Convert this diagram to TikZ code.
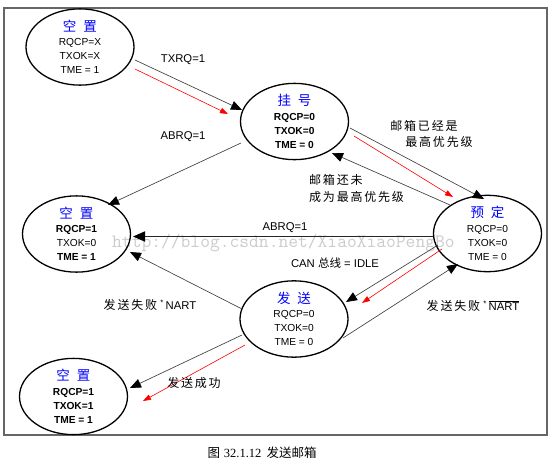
\documentclass[tikz,border=0pt]{standalone}
\usepackage{fontspec}
\setmainfont{Liberation Sans}
\newfontfamily\cjk{Noto Sans CJK SC}
\newfontfamily\cjksp[LetterSpace=15]{Noto Sans CJK SC}
\newfontfamily\serifen{Liberation Serif}
\usetikzlibrary{arrows.meta,shapes.geometric}
\newcommand{\ttl}[2]{{\cjk\fontsize{13.5}{15}\selectfont\color{blue}#1\hspace{7pt}#2}\\[0.5pt]}
\tikzset{
  st/.style={ellipse, draw=black, line width=1.3pt, minimum width=108pt, minimum height=67pt,
    inner sep=0pt, align=center, font=\fontsize{10.2}{14}\selectfont},
  blk/.style={draw=black!75, line width=0.65pt, -{Triangle[length=11pt,width=9pt,color=black,fill=black]}},
  blkthick/.style={draw=black!85, line width=1.6pt, -{Triangle[length=12pt,width=10pt,color=black,fill=black]}},
  redarr/.style={draw=red, line width=0.6pt, -{Triangle[length=8pt,width=5.5pt,color=red,fill=red]}},
  lab/.style={font=\fontsize{11.3}{12}\selectfont, inner sep=0pt},
  cjklab/.style={font=\cjksp\fontsize{12}{16}\selectfont, inner sep=0pt},
}
\begin{document}
\begin{tikzpicture}[x=1pt,y=-1pt]
\useasboundingbox (0,0) rectangle (558,464);
\fill[white] (0,0) rectangle (558,464);
% watermark
\node[font=\ttfamily\fontsize{19}{19}\selectfont, text=black!20, anchor=west, inner sep=0pt] (wm) at (112,243) {http://blog.csdn.net/XiaoXiaoPengBo};
% frame
\draw[black!60, line width=1.3pt] (4,8) rectangle (547,435);
% states
\node[st] (e1) at (80,47) {\ttl{空}{置}RQCP=X\\TXOK=X\\TME = 1};
\node[st] (e2) at (294.5,121.5) {\ttl{挂}{号}\textbf{RQCP=0}\\\textbf{TXOK=0}\\\textbf{TME = 0}};
\node[st] (e3) at (487.5,233.5) {\ttl{预}{定}RQCP=0\\TXOK=0\\TME = 0};
\node[st] (e4) at (76.5,234) {\ttl{空}{置}\textbf{RQCP=1}\\TXOK=0\\\textbf{TME = 1}};
\node[st] (e5) at (294,319) {\ttl{发}{送}RQCP=0\\TXOK=0\\TME = 0};
\node[st] (e6) at (73.5,396.5) {\ttl{空}{置}\textbf{RQCP=1}\\\textbf{TXOK=1}\\\textbf{TME = 1}};
% A: TXRQ
\draw[blk] ([shift={(55,13)}]e1.center) -- ([shift={(-52.5,-11.5)}]e2.center);
\draw[redarr] ([shift={(55,22)}]e1.center) -- ([shift={(-66.5,-7.5)}]e2.center);
\node[lab] (lA) at (183,60) {TXRQ=1};
% B: ABRQ from e2 to e4
\draw[blk] ([shift={(-53.5,21.5)}]e2.center) -- ([shift={(31.5,-29)}]e4.center);
\node[lab] (lB) at (183,137) {ABRQ=1};
% C: e2 to e3
\draw[blk] ([shift={(55.5,6.5)}]e2.center) -- ([shift={(-3.5,-34.5)}]e3.center);
\draw[redarr] ([shift={(59.5,14.5)}]e2.center) -- ([shift={(-34.5,-36.5)}]e3.center);
\node[cjklab] (lC1) at (424,126) {邮箱已经是};
\node[cjklab] (lC2) at (439,142) {最高优先级};
% D: e3 to e2
\draw[blk] ([shift={(-37.5,-28.5)}]e3.center) -- ([shift={(37.5,31.5)}]e2.center);
\node[cjklab, anchor=west] (lD1) at (309,180) {邮箱还未};
\node[cjklab, anchor=west] (lD2) at (309,197) {成为最高优先级};
% E: e3 to e4
\draw[blkthick] ([shift={(-54.5,3)}]e3.center) -- ([shift={(56.5,2.5)}]e4.center);
\node[lab] (lE) at (285,228) {ABRQ=1};
% F: e3 to e5
\draw[blk] ([shift={(-49.5,11.5)}]e3.center) -- ([shift={(52,-17)}]e5.center);
\draw[redarr] ([shift={(-45.5,15.5)}]e3.center) -- ([shift={(68,-16)}]e5.center);
\node[lab] (lF) at (335,263) {CAN {\cjk\fontsize{11.5}{12}\selectfont 总线} = IDLE};
% G: e5 to e3
\draw[blk] ([shift={(49,19)}]e5.center) -- ([shift={(-29.5,30.5)}]e3.center);
\node[lab] (lG) at (473,306) {{\cjksp\fontsize{12}{12}\selectfont 发送失败} \textsuperscript{*}\,$\overline{\mbox{NART}}$};
% H: e5 to e4
\draw[blk] ([shift={(-52,-10)}]e5.center) -- ([shift={(53.5,18)}]e4.center);
\node[lab] (lH) at (150,305) {{\cjksp\fontsize{12}{12}\selectfont 发送失败} \textsuperscript{*}\,NART};
% I: e5 to e6
\draw[blk] ([shift={(-52,16)}]e5.center) -- ([shift={(56.5,-8.5)}]e6.center);
\draw[redarr] ([shift={(-49,26)}]e5.center) -- ([shift={(69.5,4.5)}]e6.center);
\node[cjklab] (lI) at (194,383) {发送成功};
% caption
\node[font=\fontsize{12.5}{14}\selectfont, inner sep=0pt] (cap) at (262,453) {{\cjk 图}\hspace{4pt}{\serifen 32.1.12}\hspace{5pt}{\cjk 发送邮箱}};
\end{tikzpicture}
\end{document}
